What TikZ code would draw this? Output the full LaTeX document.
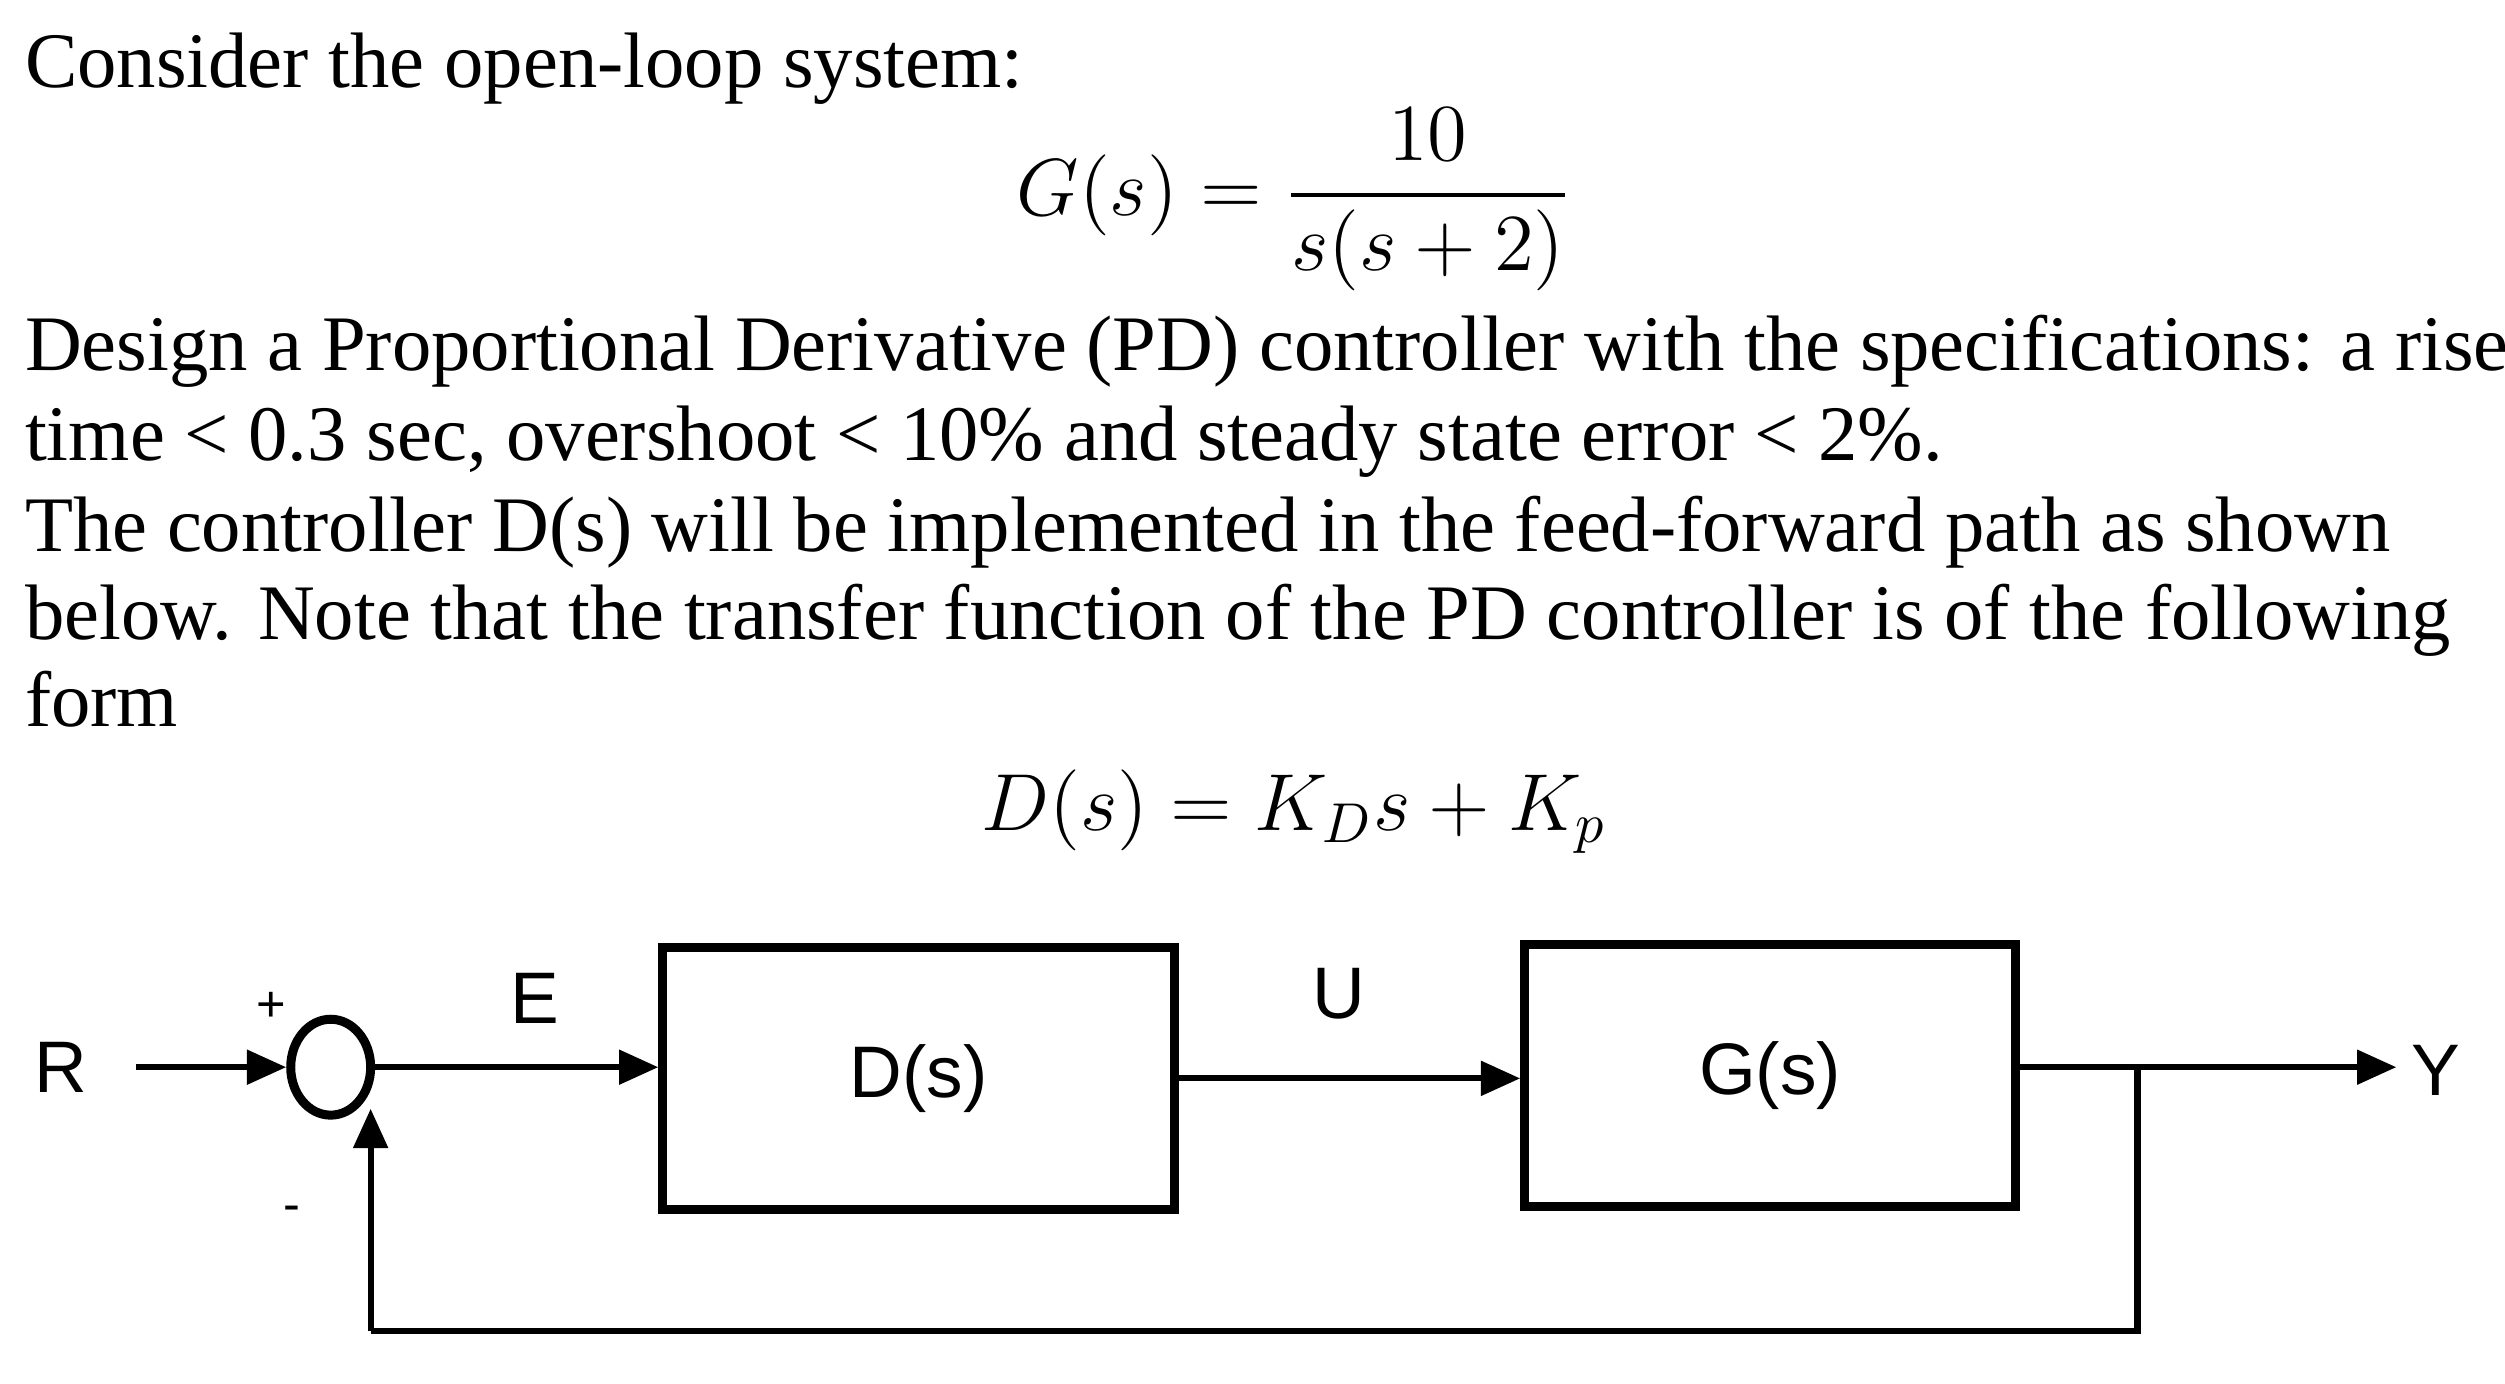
\documentclass[tikz,border=0pt]{standalone}
\usepackage{amsmath}
\usepackage{fontspec}
\setmainfont{Liberation Serif}
\newfontfamily\diagfont{Liberation Sans}
\usetikzlibrary{arrows.meta,shapes.geometric}
\tikzset{
  txt/.style={anchor=base west,inner sep=0pt,font=\fontsize{14}{16}\selectfont},
  blk/.style={draw,line width=1.6pt,minimum width=3.2cm,minimum height=1.64cm,font=\diagfont\fontsize{13}{15}\selectfont},
  lbl/.style={font=\diagfont\fontsize{13}{15}\selectfont,inner sep=0pt},
  sig/.style={line width=1.1pt,-{Triangle[length=7pt,width=6pt]}},
  ln/.style={line width=1.1pt}
}
\begin{document}
\begin{tikzpicture}[x=0.01cm,y=-0.01cm]
\useasboundingbox (0,0) rectangle (1568,866);
\node[txt] (l1) at (15,55) {Consider the open-loop system:};
\node[inner sep=0pt,font=\fontsize{14.5}{16}\selectfont] (geq) at (810,125) {$G(s)=\dfrac{10}{s(s+2)}$};
\node[txt] (l2) at (15,232) {Design a Proportional Derivative (PD) controller with the specifications: a rise};
\node[txt] (l3) at (15,288) {time < 0.3 sec, overshoot < 10\% and steady state error < 2\%.};
\node[txt] (l4) at (15,345) {The controller D(s) will be implemented in the feed-forward path as shown};
\node[txt] (l5) at (15,400) {below. Note that the transfer function of the PD controller is of the following};
\node[txt] (l6) at (15,455) {form};
\node[inner sep=0pt,font=\fontsize{14.5}{16}\selectfont] (deq) at (810,508) {$D(s)=K_D s+K_p$};
% diagram
\node[lbl] (R) at (38,668) {R};
\node[draw,ellipse,line width=1.6pt,minimum width=0.5cm,minimum height=0.6cm,inner sep=0pt] (sum) at (207,668) {};
\node[lbl,font=\diagfont\fontsize{9}{9}\selectfont] (plus) at (170,630) {+};
\node[lbl,font=\diagfont\fontsize{9}{9}\selectfont] (minus) at (183,760) {-};
\node[blk] (D) at (575,675) {D(s)};
\node[blk,minimum width=3.07cm] (G) at (1108,673) {G(s)};
\node[lbl] (E) at (335,625) {E};
\node[lbl] (U) at (838,622) {U};
\node[lbl] (Y) at (1525,670) {Y};
\coordinate (rin) at (85,668);
\coordinate (tap) at (1338,668);
\coordinate (yend) at (1500,668);
\coordinate (fb1) at (1338,833);
\coordinate (fb2) at (232,833);
\draw[sig] (rin) -- (sum.west);
\draw[sig] (sum.east) -- (sum.east -| D.west);
\draw[sig] (D.east |- 0,675) -- (G.west |- 0,675);
\draw[sig] (G.east |- tap) -- (yend);
\draw[ln] (tap) -- (fb1) -- (fb2);
\draw[sig] (fb2) -- (232,694);
\end{tikzpicture}
\end{document}
